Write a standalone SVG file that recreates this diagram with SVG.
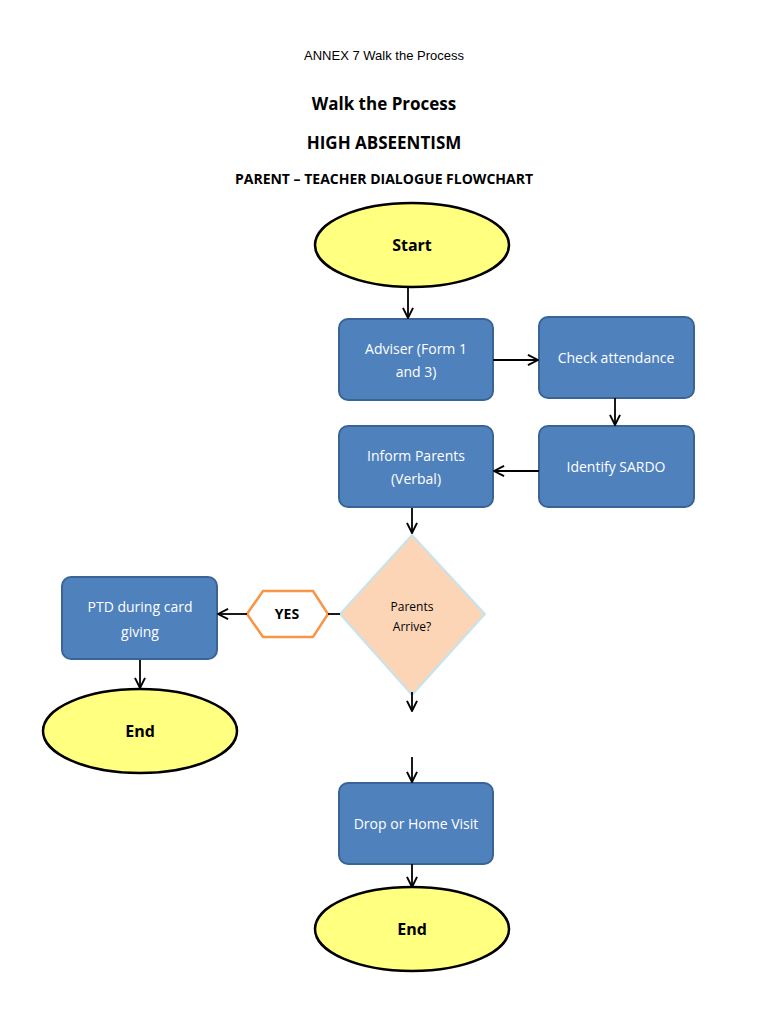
<svg xmlns="http://www.w3.org/2000/svg" width="768" height="1024" viewBox="0 0 768 1024">
<defs>
<style>
.t{font-family:"Liberation Sans",Arial,sans-serif;fill:#000}
.h{font-family:"Open Sans","Liberation Sans",sans-serif;font-weight:bold;fill:#000;text-anchor:middle}
.box{fill:#4f81bd;stroke:#3a6496;stroke-width:2}
.bt{font-family:"Open Sans","Liberation Sans",sans-serif;font-size:14px;fill:#fff;text-anchor:middle}
.ell{fill:#ffff80;stroke:#000;stroke-width:2.5}
.et{font-family:"Open Sans","Liberation Sans",sans-serif;font-size:16px;font-weight:bold;text-anchor:middle}
.c{stroke:#000;stroke-width:1.8;fill:none}
</style>
<marker id="a" viewBox="0 0 10 10" refX="9" refY="5" markerWidth="7" markerHeight="7" orient="auto"><path d="M1,1 L9,5 L1,9" fill="none" stroke="#000" stroke-width="1.5"/></marker>
</defs>
<rect width="768" height="1024" fill="#fff"/>
<text class="t" x="384" y="60" font-size="13" text-anchor="middle">ANNEX 7 Walk the Process</text>
<text class="h" x="384" y="110" font-size="17">Walk the Process</text>
<text class="h" x="384" y="149" font-size="17">HIGH ABSEENTISM</text>
<text class="h" x="384" y="184" font-size="14">PARENT – TEACHER DIALOGUE FLOWCHART</text>
<g id="start"><ellipse class="ell" cx="412" cy="245" rx="97" ry="42"/><text class="et" x="412" y="251">Start</text></g>
<g id="adviser"><rect class="box" x="339" y="319" width="154" height="81" rx="9"/><text class="bt" x="416" y="354">Adviser (Form 1</text><text class="bt" x="416" y="377">and 3)</text></g>
<g id="check"><rect class="box" x="539" y="317" width="155" height="81" rx="9"/><text class="bt" x="616" y="363">Check attendance</text></g>
<g id="sardo"><rect class="box" x="539" y="426" width="155" height="81" rx="9"/><text class="bt" x="616" y="472">Identify SARDO</text></g>
<g id="inform"><rect class="box" x="339" y="426" width="154" height="81" rx="9"/><text class="bt" x="416" y="461">Inform Parents</text><text class="bt" x="416" y="484">(Verbal)</text></g>
<g id="decision"><polygon points="412,535 485,614 412,695 340,614" fill="#fbd5b5" stroke="#c6e3ee" stroke-width="2"/><text x="412" y="611" font-family="Open Sans,Liberation Sans,sans-serif" font-size="12" text-anchor="middle">Parents</text><text x="412" y="631" font-family="Open Sans,Liberation Sans,sans-serif" font-size="12" text-anchor="middle">Arrive?</text></g>
<g id="yes"><polygon points="263,591 313,591 328,614 313,637 263,637 247,614" fill="#fff" stroke="#f79646" stroke-width="2.5"/><text x="287" y="619" font-family="Open Sans,Liberation Sans,sans-serif" font-size="14" font-weight="bold" text-anchor="middle">YES</text></g>
<g id="ptd"><rect class="box" x="62" y="577" width="155" height="82" rx="9"/><text class="bt" x="140" y="612">PTD during card</text><text class="bt" x="140" y="637">giving</text></g>
<g id="end1"><ellipse class="ell" cx="140" cy="731" rx="97" ry="42"/><text class="et" x="140" y="737">End</text></g>
<g id="drop"><rect class="box" x="339" y="783" width="154" height="81" rx="9"/><text class="bt" x="416" y="829">Drop or Home Visit</text></g>
<g id="end2"><ellipse class="ell" cx="412" cy="929" rx="97" ry="42"/><text class="et" x="412" y="935">End</text></g>
<g id="connectors">
<line class="c" x1="408" y1="288" x2="408" y2="318" marker-end="url(#a)"/>
<line class="c" x1="493" y1="360" x2="538" y2="360" marker-end="url(#a)"/>
<line class="c" x1="615" y1="398" x2="615" y2="425" marker-end="url(#a)"/>
<line class="c" x1="539" y1="471" x2="494" y2="471" marker-end="url(#a)"/>
<line class="c" x1="412" y1="508" x2="412" y2="533" marker-end="url(#a)"/>
<line class="c" x1="340" y1="614" x2="328" y2="614"/>
<line class="c" x1="247" y1="614" x2="218" y2="614" marker-end="url(#a)"/>
<line class="c" x1="140" y1="660" x2="140" y2="688" marker-end="url(#a)"/>
<line class="c" x1="412" y1="692" x2="412" y2="711" marker-end="url(#a)"/>
<line class="c" x1="412" y1="757" x2="412" y2="782" marker-end="url(#a)"/>
<line class="c" x1="412" y1="864" x2="412" y2="887" marker-end="url(#a)"/>
</g>
</svg>
